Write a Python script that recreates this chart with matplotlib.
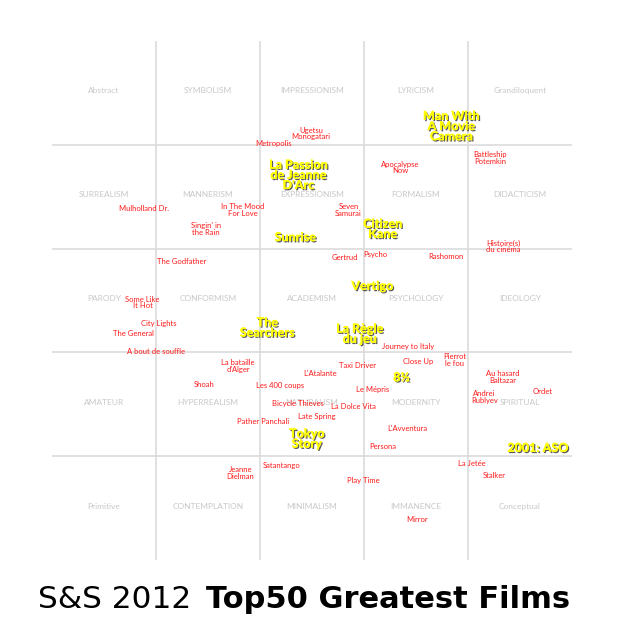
import matplotlib
matplotlib.use("Agg")
import matplotlib.pyplot as plt
import matplotlib.patheffects as pe

# style categories, row by row (top to bottom), column by column
categories = [
    ["Abstract", "SYMBOLISM", "IMPRESSIONISM", "LYRICISM", "Grandiloquent"],
    ["SURREALISM", "MANNERISM", "EXPRESSIONISM", "FORMALISM", "DIDACTICISM"],
    ["PARODY", "CONFORMISM", "ACADEMISM", "PSYCHOLOGY", "IDEOLOGY"],
    ["AMATEUR", "HYPERREALISM", "NATURALISM", "MODERNITY", "SPIRITUAL"],
    ["Primitive", "CONTEMPLATION", "MINIMALISM", "IMMANENCE", "Conceptual"],
]

# films placed on the grid (grid units: x right, y down)
films = [
    "Ugetsu\nMonogatari", "Metropolis", "Apocalypse\nNow", "Battleship\nPotemkin",
    "Seven\nSamurai", "Mulholland Dr.", "In The Mood\nFor Love", "Singin' in\nthe Rain",
    "Histoire(s)\ndu cinéma", "Gertrud", "Psycho", "Rashomon", "The Godfather",
    "Some Like\nIt Hot", "City Lights", "The General", "A bout de souffle",
    "La bataille\nd'Alger", "Shoah", "Les 400 coups", "L'Atalante", "Bicycle Thieves",
    "Late Spring", "Pather Panchali", "Taxi Driver", "Journey to Italy", "Close Up",
    "Pierrot\nle fou", "Le Mépris", "La Dolce Vita", "L'Avventura", "Persona",
    "Au hasard\nBaltazar", "Andrei\nRublyev", "Ordet", "Jeanne\nDielman", "Satantango",
    "Play Time", "La Jetée", "Stalker", "Mirror",
]
film_x = [2.49, 2.13, 3.35, 4.21, 2.85, 0.88, 1.83, 1.48, 4.34, 2.82, 3.11, 3.79, 1.25,
          0.87, 1.03, 0.78, 1.00, 1.79, 1.46, 2.19, 2.58, 2.36, 2.55, 2.03, 2.94, 3.42,
          3.52, 3.87, 3.08, 2.90, 3.42, 3.18, 4.33, 4.16, 4.72, 1.81, 2.21, 2.99, 4.04,
          4.25, 3.51]
film_y = [0.89, 0.99, 1.22, 1.13, 1.63, 1.61, 1.63, 1.81, 1.98, 2.09, 2.06, 2.08, 2.12,
          2.52, 2.72, 2.82, 2.99, 3.13, 3.31, 3.32, 3.20, 3.49, 3.62, 3.67, 3.13, 2.94,
          3.09, 3.07, 3.36, 3.52, 3.73, 3.91, 3.24, 3.43, 3.38, 4.16, 4.09, 4.23, 4.07,
          4.19, 4.61]

# top ten, highlighted
top10 = [
    "Man With\nA Movie\nCamera", "La Passion\nde Jeanne\nD'Arc", "Sunrise", "Citizen\nKane",
    "Vertigo", "The\nSearchers", "La Règle\ndu jeu", "8½", "Tokyo\nStory", "2001: ASO",
]
top10_x = [3.84, 2.37, 2.34, 3.18, 3.08, 2.07, 2.96, 3.36, 2.45, 4.67]
top10_y = [0.82, 1.29, 1.89, 1.81, 2.36, 2.76, 2.82, 3.24, 3.83, 3.92]

fig = plt.figure(figsize=(6.27, 6.40), dpi=100)
ax = fig.add_axes([52 / 627, 1 - 560 / 640, 520 / 627, 519 / 640])
ax.set_xlim(0, 5)
ax.set_ylim(5, 0)
ax.axis("off")

for k in range(1, 5):
    ax.axvline(k, color="#d9d9d9", lw=1.1, zorder=0)
    ax.axhline(k, color="#d9d9d9", lw=1.1, zorder=0)

for r, row in enumerate(categories):
    for c, name in enumerate(row):
        ax.text(c + 0.5, r + 0.48, name, ha="center", va="center", fontsize=6,
                color="#c8c8c8", family="Lato", zorder=1)

for name, x, y in zip(films, film_x, film_y):
    ax.text(x, y, name, ha="center", va="center", fontsize=5.5, color="#ff1a1a",
            family="Lato", linespacing=0.95, zorder=2)

shadow = [pe.withSimplePatchShadow(offset=(0.9, -0.9), shadow_rgbFace="#333333", alpha=0.8),
          pe.Normal()]
for name, x, y in zip(top10, top10_x, top10_y):
    ax.text(x, y, name, ha="center", va="center", fontsize=9, color="#ffff00",
            family="Lato", weight="black", linespacing=0.82, zorder=3,
            path_effects=shadow)

fig.text(38 / 627, 0.05, "S&S 2012", ha="left", va="baseline", fontsize=22.5,
         family="DejaVu Sans", color="black")
fig.text(570 / 627, 0.05, "Top50 Greatest Films", ha="right", va="baseline", fontsize=22,
         family="DejaVu Sans", weight="bold", color="black")

fig.savefig("out.png", dpi=100, facecolor="white")
